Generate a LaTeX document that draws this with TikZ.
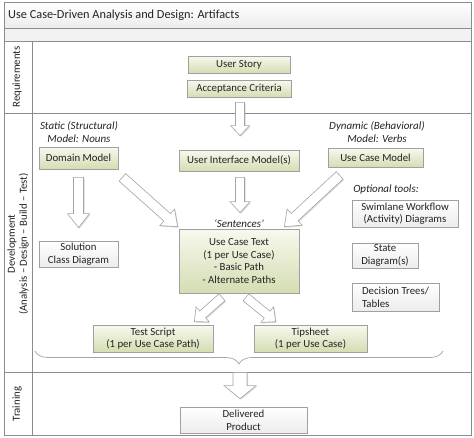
\documentclass[tikz,border=0pt]{standalone}
\usepackage{fontspec}
\setmainfont{Carlito}
\usetikzlibrary{calc,shadows,decorations.pathreplacing}
\definecolor{lanegray}{RGB}{140,140,140}
\definecolor{boxgray}{RGB}{160,160,160}
\definecolor{greentop}{RGB}{247,249,238}
\definecolor{greenbot}{RGB}{212,221,178}
\definecolor{txt}{RGB}{35,35,35}
\definecolor{arrgray}{RGB}{165,165,165}
\definecolor{titlebot}{RGB}{236,236,236}
\tikzset{
  boxtext/.style={font=\fontsize{10.8}{12.6}\selectfont, text=txt, align=center, inner sep=0pt},
  gbox/.style={boxtext, draw=boxgray, line width=0.7pt, top color=greentop, bottom color=greenbot,
    drop shadow={shadow xshift=1.2pt, shadow yshift=-1.2pt, opacity=0.25}},
  wbox/.style={boxtext, draw=boxgray, line width=0.7pt, top color=white, bottom color=titlebot,
    drop shadow={shadow xshift=1.2pt, shadow yshift=-1.2pt, opacity=0.25}},
  note/.style={font=\fontsize{11}{13.5}\selectfont\itshape, text=txt, align=center, inner sep=0pt},
  lanelabel/.style={font=\fontsize{10.8}{12}\selectfont, text=txt, align=center, rotate=90, inner sep=0pt},
  lane/.style={draw=lanegray, line width=0.8pt},
  blockarrow/.style={draw=arrgray, line width=0.6pt, fill=white, line join=miter,
    drop shadow={shadow xshift=1pt, shadow yshift=-1pt, opacity=0.3}},
}
\newcommand{\blockarr}[5]{%
  \coordinate (ba-s) at (#1);
  \coordinate (ba-e) at (#2);
  \coordinate (ba-h) at ($(ba-e)!#5!(ba-s)$);
  \draw[blockarrow] ($(ba-s)!#3!90:(ba-e)$) -- ($(ba-h)!#3!-90:(ba-s)$) -- ($(ba-h)!#4!-90:(ba-s)$)
    -- (ba-e) -- ($(ba-h)!#4!90:(ba-s)$) -- ($(ba-h)!#3!90:(ba-s)$) -- ($(ba-s)!#3!-90:(ba-e)$) -- cycle;
}
\begin{document}
\begin{tikzpicture}[x=1pt,y=-1pt]
\useasboundingbox (0,0) rectangle (474,437);
% frame and lanes
\fill[white] (4,2) rectangle (471,435);
\shade[top color=white, bottom color=titlebot] (4,2) rectangle (471,28);
\fill[titlebot!70!white] (4,28) rectangle (471,41);
\draw[lane] (4,2) rectangle (471,435);
\draw[lane] (4,28) -- (471,28);
\draw[lane] (4,41) -- (471,41);
\draw[lane] (4,113) -- (471,113);
\draw[lane] (4,372) -- (471,372);
\draw[lane] (32,41) -- (32,435);
\node[anchor=west, font=\fontsize{12.3}{14}\selectfont, text=txt, inner sep=0pt] (title) at (8,15) {Use Case-Driven Analysis and Design: Artifacts};
\node[lanelabel] (lreq) at (17,77) {Requirements};
\node[lanelabel] (ldev) at (18,244) {Development\\(Analysis – Design – Build – Test)};
\node[lanelabel] (ltrn) at (17,404) {Training};

% requirements
\node[gbox, minimum width=102pt, minimum height=17pt] (us) at (239,64.5) {User Story};
\node[gbox, minimum width=104pt, minimum height=17pt] (ac) at (239,88.5) {Acceptance Criteria};

% development
\node[note] (static) at (79,132) {Static (Structural)\\Model: Nouns};
\node[note] (dynamic) at (377,132) {Dynamic (Behavioral)\\Model: Verbs};
\node[gbox, minimum width=79pt, minimum height=22pt] (dm) at (78.5,158) {Domain Model};
\node[gbox, minimum width=120pt, minimum height=21pt] (ui) at (239,160.5) {User Interface Model(s)};
\node[gbox, minimum width=95pt, minimum height=19pt] (ucm) at (375.5,157.5) {Use Case Model};
\node[note] (opt) at (386,190) {Optional tools:};
\node[wbox, minimum width=106pt, minimum height=27pt] (swim) at (405,213.5) {Swimlane Workflow\\(Activity) Diagrams};
\node[wbox, minimum width=66pt, minimum height=25pt] (state) at (385,255.5) {State\\Diagram(s)};
\node[wbox, minimum width=87pt, minimum height=28pt, align=left] (dec) at (395.5,297) {Decision Trees/\\Tables};
\node[wbox, minimum width=79pt, minimum height=26pt] (sol) at (78.5,254) {Solution\\Class Diagram};
\node[note] (sent) at (239,224) {‘Sentences’};
\node[gbox, minimum width=120pt, minimum height=64pt] (uct) at (239,261) {Use Case Text\\(1 per Use Case)\\- Basic Path\\- Alternate Paths};
\node[gbox, minimum width=120pt, minimum height=27pt] (ts) at (153,338.5) {Test Script\\(1 per Use Case Path)};
\node[gbox, minimum width=113pt, minimum height=27pt] (tip) at (310.5,338.5) {Tipsheet\\(1 per Use Case)};
\draw[draw=arrgray, line width=0.7pt, decorate, decoration={brace, amplitude=13pt}] (443,351) -- (35,351);

% training
\node[wbox, minimum width=127pt, minimum height=26pt] (dp) at (243.5,420) {Delivered\\Product};

% block arrows
\blockarr{$(ac.south)+(1,5)$}{$(ui.north)+(1,-14)$}{4.5pt}{9.5pt}{10pt}
\blockarr{$(ui.south)+(1,6)$}{$(uct.north)+(1,-16)$}{4.5pt}{10pt}{11pt}
\blockarr{$(dm.south)+(0,8)$}{$(sol.north)+(0,-13)$}{5pt}{11pt}{14pt}
\blockarr{$(dm.south east)+(4,8)$}{$(uct.north west)+(-1,-2)$}{5pt}{11pt}{14pt}
\blockarr{$(ucm.south west)+(12,8)$}{$(uct.north east)+(-15,-2)$}{5pt}{11pt}{14pt}
\blockarr{$(uct.south)+(-17,4)$}{$(ts.north east)+(-19,-3)$}{4.5pt}{10pt}{11pt}
\blockarr{$(uct.south)+(7,4)$}{$(tip.north west)+(22,-3)$}{4.5pt}{10pt}{11pt}
\blockarr{$(dp.north)+(-3.5,-34)$}{$(dp.north)+(-3.5,-8)$}{7pt}{16pt}{13pt}
\end{tikzpicture}
\end{document}
